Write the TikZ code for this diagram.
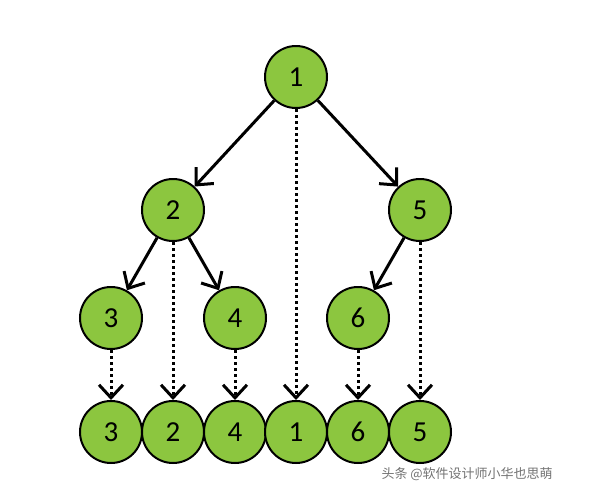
\documentclass[tikz,border=0pt]{standalone}
\usepackage{fontspec}
\setmainfont{Carlito}
\newfontfamily\cjk{Noto Sans CJK SC}
\usetikzlibrary{arrows.meta}
\definecolor{nodegreen}{HTML}{8CC63F}
\tikzset{
  tn/.style={circle, draw=black, line width=2pt, fill=nodegreen, minimum size=62pt, inner sep=0pt, font=\fontsize{29}{29}\selectfont},
  solidarr/.style={line width=3pt, -{Straight Barb[length=13pt,width=24pt,line width=3pt]}},
  dotarr/.style={line width=3pt, dash pattern=on 3pt off 3pt, -{Straight Barb[length=13pt,width=24pt,line width=3pt]}}
}
\begin{document}
\begin{tikzpicture}[x=1pt,y=-1pt]
\useasboundingbox (0,0) rectangle (590,496);
\fill[white] (0,0) rectangle (590,496);
\node[tn] (n1) at (296,77) {1};
\node[tn] (n2) at (173,210) {2};
\node[tn] (n5) at (420,210) {5};
\node[tn] (n3) at (111,318) {3};
\node[tn] (n4) at (235,318) {4};
\node[tn] (n6) at (358,318) {6};
\node[tn] (b3) at (111,432) {3};
\node[tn] (b2) at (173,432) {2};
\node[tn] (b4) at (235,432) {4};
\node[tn] (b1) at (296,432) {1};
\node[tn] (b6) at (358,432) {6};
\node[tn] (b5) at (420,432) {5};
\draw[solidarr] (n1) -- (n2);
\draw[solidarr] (n1) -- (n5);
\draw[solidarr] (n2) -- (n3);
\draw[solidarr] (n2) -- (n4);
\draw[solidarr] (n5) -- (n6);
\draw[dotarr] (n1) -- (b1);
\draw[dotarr] (n2) -- (b2);
\draw[dotarr] (n5) -- (b5);
\draw[dotarr] (n3) -- (b3);
\draw[dotarr] (n4) -- (b4);
\draw[dotarr] (n6) -- (b6);
\node[text=black!55, font=\cjk\fontsize{13}{13}\selectfont, anchor=west] (wm) at (378,474) {头条 @软件设计师小华也思萌};
\end{tikzpicture}
\end{document}
